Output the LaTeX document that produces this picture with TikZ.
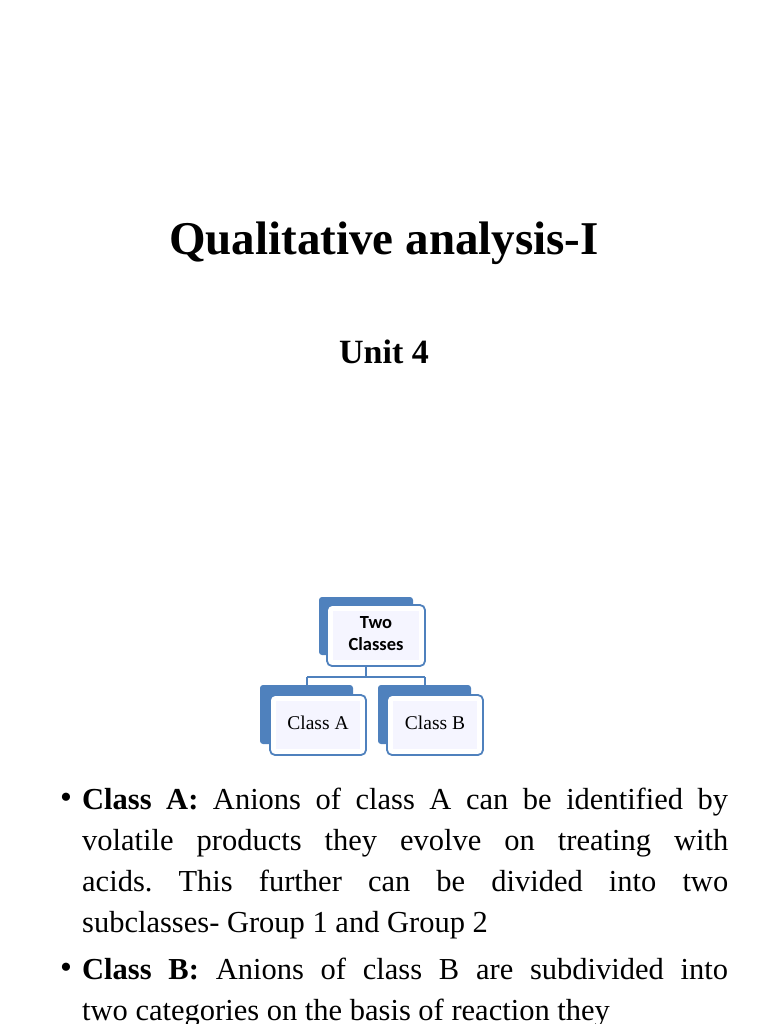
\documentclass[tikz,border=0pt]{standalone}
\usepackage{fontspec}
\setmainfont{Liberation Serif}
\newfontfamily\boxfont{Carlito}
\frenchspacing
\begin{document}
\begin{tikzpicture}[x=1pt,y=-1pt,
  backbox/.style={draw=none, rounded corners=3pt},
  frontbox/.style={fill=white, draw={rgb,255:red,79;green,129;blue,189}, line width=1.8pt, rounded corners=5pt, inner sep=0pt},
  link/.style={draw={rgb,255:red,79;green,129;blue,189}, line width=1.5pt},
  body/.style={anchor=north west, inner sep=0pt, text width=646pt, align=justify, font=\fontsize{30.5}{41}\selectfont}]
\useasboundingbox (0,0) rectangle (768,1024);
\clip (0,0) rectangle (768,1024);
\node[font=\fontsize{47}{52}\selectfont\bfseries] (title) at (384,243) {Qualitative analysis-I};
\node[font=\fontsize{34}{38}\selectfont\bfseries] (unit) at (384,352) {Unit 4};
% top box
\fill[backbox, fill={rgb,255:red,79;green,129;blue,189}] (319,597) rectangle (413,655);
\draw[frontbox] (327,605) rectangle (425,666);
\fill[blue!4] (333,611) rectangle (419,660);
\node[font=\boxfont\bfseries\fontsize{18.5}{22}\selectfont, align=center] (two) at (376,634) {Two\\Classes};
% A
\fill[backbox, fill={rgb,255:red,79;green,129;blue,189}] (260,685) rectangle (353,744);
\draw[frontbox] (270,695) rectangle (366,755);
\fill[blue!4] (276,701) rectangle (360,749);
\node[font=\fontsize{19.5}{22}\selectfont] (ca) at (318,723) {Class A};
% B
\fill[backbox, fill={rgb,255:red,79;green,129;blue,189}] (378,685) rectangle (471,744);
\draw[frontbox] (387,695) rectangle (483,755);
\fill[blue!4] (393,701) rectangle (477,749);
\node[font=\fontsize{19.5}{22}\selectfont] (cb) at (435,723) {Class B};
\coordinate (t) at (366,666);
\coordinate (m) at (366,677);
\coordinate (ml) at (307,677);
\coordinate (mr) at (425,677);
\draw[link] (t) -- (m) (ml) -- (mr) (ml) -- (307,687) (mr) -- (425,687);
% bullets
\node[font=\fontsize{34}{41}\selectfont] (b1) at (66,801) {•};
\node[body] (p1) at (82,788) {\textbf{Class A:} Anions of class A can be identified by\linebreak volatile products they evolve on treating with\linebreak acids. This further can be divided into two\linebreak subclasses- Group 1 and Group 2};
\node[font=\fontsize{34}{41}\selectfont] (b2) at (66,971) {•};
\node[body] (p2) at (82,958) {\textbf{Class B:} Anions of class B are subdivided into\linebreak two categories on the basis of reaction they};
\end{tikzpicture}
\end{document}
